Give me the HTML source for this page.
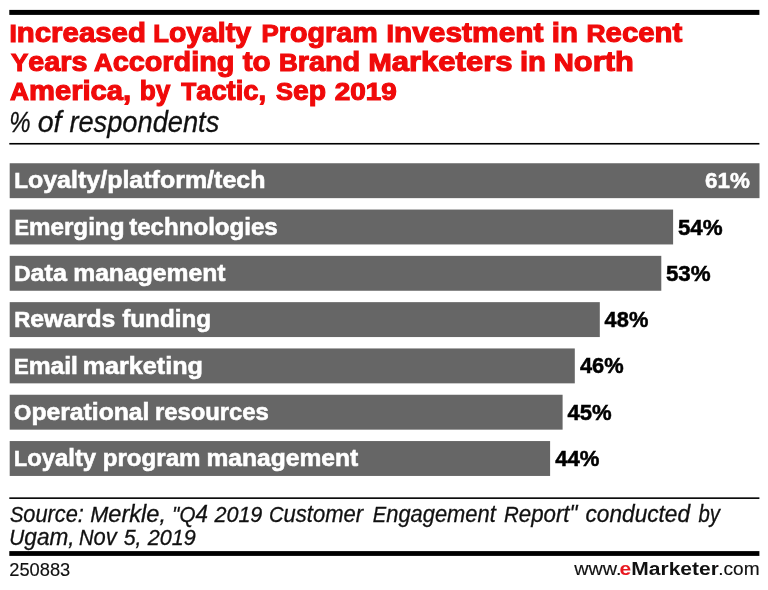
<!DOCTYPE html>
<html lang="en">
<head>
<meta charset="utf-8">
<title>Increased Loyalty Program Investment in Recent Years According to Brand Marketers in North America, by Tactic, Sep 2019</title>
<style>
html,body{margin:0;padding:0;background:#fff;}
body{width:768px;height:590px;position:relative;overflow:hidden;font-family:"Liberation Sans",sans-serif;color:#000;}
.gfx{position:absolute;left:0;top:0;display:block;}
.soft{position:absolute;left:0;top:0;width:768px;height:590px;filter:blur(0.4px);}
.line{position:absolute;left:0;top:0;margin:0;white-space:nowrap;line-height:0;font-size:0;}
.t{display:inline-block;vertical-align:top;width:0;white-space:nowrap;transform-origin:0 0;line-height:1;}
.title{color:#f00a0a;font-weight:bold;}
.sub{font-style:italic;color:#111;}
.lbl{color:#fff;font-weight:bold;}
.val{color:#000;font-weight:bold;}
.src{font-style:italic;color:#111;}
.foot{color:#111;}
.foot b{background:linear-gradient(90deg,#e8171f 0,#e8171f 10.9%,#111 10.9%,#111 100%);-webkit-background-clip:text;background-clip:text;color:transparent;-webkit-text-fill-color:transparent;}
.title .k::first-letter{font-size:0.9em;}
.lbl .k::first-letter{font-size:0.9em;}
.src .k::first-letter{font-size:0.92em;}
</style>
</head>
<body>
<div class="soft">
<svg class="gfx" width="768" height="590" viewBox="0 0 768 590" aria-hidden="true">
<rect class="rule" x="9.3" y="9.9" width="750.1" height="5.0" fill="#000"/>
<rect class="rule" x="9.3" y="142.95" width="750.1" height="1.6" fill="#000"/>
<rect class="rule" x="9.3" y="497.35" width="750.1" height="1.6" fill="#000"/>
<rect class="rule" x="9.3" y="551.1" width="750.1" height="4.8" fill="#000"/>
<rect class="bar" x="9.7" y="163.25" width="749.8" height="34.9" fill="#666"/>
<rect class="bar" x="9.7" y="209.55" width="663.4" height="34.9" fill="#666"/>
<rect class="bar" x="9.7" y="255.85" width="651.6" height="34.9" fill="#666"/>
<rect class="bar" x="9.7" y="302.15" width="590.1" height="34.9" fill="#666"/>
<rect class="bar" x="9.7" y="348.45" width="565.1" height="34.9" fill="#666"/>
<rect class="bar" x="9.7" y="394.75" width="552.9" height="34.9" fill="#666"/>
<rect class="bar" x="9.7" y="441.05" width="540.4" height="34.9" fill="#666"/>
</svg>
<div class="line title"><span class="t k" id="t1w1" style="font-size:27px;transform:translate(9.43px,20px) scaleX(1.0887);-webkit-text-stroke:1.1px #f00a0a;">Increased</span> <span class="t k" id="t1w2" style="font-size:27px;transform:translate(153.25px,20px) scaleX(1.0527);-webkit-text-stroke:1.1px #f00a0a;">Loyalty</span> <span class="t k" id="t1w3" style="font-size:27px;transform:translate(261.56px,20px) scaleX(1.0626);-webkit-text-stroke:1.1px #f00a0a;">Program</span> <span class="t k" id="t1w4" style="font-size:27px;transform:translate(386.48px,20px) scaleX(1.1071);-webkit-text-stroke:1.1px #f00a0a;">Investment</span> <span class="t" id="t1w5" style="font-size:27px;transform:translate(551.83px,20px) scaleX(1.0894);-webkit-text-stroke:1.1px #f00a0a;">in</span> <span class="t k" id="t1w6" style="font-size:27px;transform:translate(586.46px,20px) scaleX(1.0883);-webkit-text-stroke:1.1px #f00a0a;">Recent</span></div>
<div class="line title"><span class="t k" id="t2w1" style="font-size:27px;transform:translate(11.04px,49px) scaleX(1.0632);-webkit-text-stroke:1.1px #f00a0a;">Years</span> <span class="t k" id="t2w2" style="font-size:27px;transform:translate(93.99px,49px) scaleX(1.067);-webkit-text-stroke:1.1px #f00a0a;">According</span> <span class="t" id="t2w3" style="font-size:27px;transform:translate(242.71px,49px) scaleX(1.0954);-webkit-text-stroke:1.1px #f00a0a;">to</span> <span class="t k" id="t2w4" style="font-size:27px;transform:translate(278.88px,49px) scaleX(1.0702);-webkit-text-stroke:1.1px #f00a0a;">Brand</span> <span class="t k" id="t2w5" style="font-size:27px;transform:translate(368.44px,49px) scaleX(1.1494);-webkit-text-stroke:1.1px #f00a0a;">Marketers</span> <span class="t" id="t2w6" style="font-size:27px;transform:translate(519.96px,49px) scaleX(1.082);-webkit-text-stroke:1.1px #f00a0a;">in</span> <span class="t k" id="t2w7" style="font-size:27px;transform:translate(553.81px,49px) scaleX(1.1411);-webkit-text-stroke:1.1px #f00a0a;">North</span></div>
<div class="line title"><span class="t k" id="t3w1" style="font-size:27px;transform:translate(10.01px,78px) scaleX(1.0806);-webkit-text-stroke:1.1px #f00a0a;">America,</span> <span class="t" id="t3w2" style="font-size:27px;transform:translate(139.75px,78px) scaleX(0.9722);-webkit-text-stroke:1.1px #f00a0a;">by</span> <span class="t k" id="t3w3" style="font-size:27px;transform:translate(181.17px,78px) scaleX(1.012);-webkit-text-stroke:1.1px #f00a0a;">Tactic,</span> <span class="t k" id="t3w4" style="font-size:27px;transform:translate(276.07px,78px) scaleX(1.0476);-webkit-text-stroke:1.1px #f00a0a;">Sep</span> <span class="t" id="t3w5" style="font-size:24.3px;transform:translate(334.73px,80px) scaleX(1.1461);-webkit-text-stroke:1.1px #f00a0a;">2019</span></div>
<div class="line sub"><span class="t" id="s1w1" style="font-size:30px;transform:translate(9.33px,107px) scaleX(0.8018);-webkit-text-stroke:0.3px #111;">%</span> <span class="t" id="s1w2" style="font-size:30px;transform:translate(37.7px,107px) scaleX(0.9523);-webkit-text-stroke:0.3px #111;">of</span> <span class="t" id="s1w3" style="font-size:30px;transform:translate(69.39px,107px) scaleX(0.9079);-webkit-text-stroke:0.3px #111;">respondents</span></div>
<div class="line lbl"><span class="t k" id="l1" style="font-size:24.4px;transform:translate(14.2px,168px) scaleX(1.0248);-webkit-text-stroke:0.6px #fff;">Loyalty/platform/tech</span></div>
<div class="line lbl"><span class="t k" id="l2w1" style="font-size:24.4px;transform:translate(14.43px,215px) scaleX(0.9921);-webkit-text-stroke:0.6px #fff;">Emerging</span> <span class="t" id="l2w2" style="font-size:24.4px;transform:translate(129.16px,215px) scaleX(0.9877);-webkit-text-stroke:0.6px #fff;">technologies</span></div>
<div class="line lbl"><span class="t k" id="l3w1" style="font-size:24.4px;transform:translate(14.2px,261px) scaleX(1.0307);-webkit-text-stroke:0.6px #fff;">Data</span> <span class="t" id="l3w2" style="font-size:24.4px;transform:translate(73.18px,261px) scaleX(1.0124);-webkit-text-stroke:0.6px #fff;">management</span></div>
<div class="line lbl"><span class="t k" id="l4w1" style="font-size:24.4px;transform:translate(14.15px,307px) scaleX(1.0126);-webkit-text-stroke:0.6px #fff;">Rewards</span> <span class="t" id="l4w2" style="font-size:24.4px;transform:translate(122.28px,307px) scaleX(0.9917);-webkit-text-stroke:0.6px #fff;">funding</span></div>
<div class="line lbl"><span class="t k" id="l5w1" style="font-size:24.4px;transform:translate(13.94px,354px) scaleX(1.0085);-webkit-text-stroke:0.6px #fff;">Email</span> <span class="t" id="l5w2" style="font-size:24.4px;transform:translate(82.69px,354px) scaleX(1.0318);-webkit-text-stroke:0.6px #fff;">marketing</span></div>
<div class="line lbl"><span class="t k" id="l6w1" style="font-size:24.4px;transform:translate(14.1px,400px) scaleX(1.0124);-webkit-text-stroke:0.6px #fff;">Operational</span> <span class="t" id="l6w2" style="font-size:24.4px;transform:translate(154.92px,400px) scaleX(0.9772);-webkit-text-stroke:0.6px #fff;">resources</span></div>
<div class="line lbl"><span class="t k" id="l7w1" style="font-size:24.4px;transform:translate(14.08px,446px) scaleX(0.9775);-webkit-text-stroke:0.6px #fff;">Loyalty</span> <span class="t" id="l7w2" style="font-size:24.4px;transform:translate(102.72px,446px) scaleX(0.9886);-webkit-text-stroke:0.6px #fff;">program</span> <span class="t" id="l7w3" style="font-size:24.4px;transform:translate(206.48px,446px) scaleX(1.0084);-webkit-text-stroke:0.6px #fff;">management</span></div>
<div class="line val"><span class="t" id="v1" style="font-size:22px;transform:translate(705.02px,170px) scaleX(1.0171);color:#fff;-webkit-text-stroke:0.5px #fff;">61%</span></div>
<div class="line val"><span class="t" id="v2" style="font-size:22px;transform:translate(677.89px,217px) scaleX(1.016);-webkit-text-stroke:0.5px #000;">54%</span></div>
<div class="line val"><span class="t" id="v3" style="font-size:22px;transform:translate(665.89px,263px) scaleX(1.016);-webkit-text-stroke:0.5px #000;">53%</span></div>
<div class="line val"><span class="t" id="v4" style="font-size:22px;transform:translate(604.6px,309px) scaleX(0.9923);-webkit-text-stroke:0.5px #000;">48%</span></div>
<div class="line val"><span class="t" id="v5" style="font-size:22px;transform:translate(579.91px,355px) scaleX(0.9923);-webkit-text-stroke:0.5px #000;">46%</span></div>
<div class="line val"><span class="t" id="v6" style="font-size:22px;transform:translate(567.45px,402px) scaleX(1.003);-webkit-text-stroke:0.5px #000;">45%</span></div>
<div class="line val"><span class="t" id="v7" style="font-size:22px;transform:translate(555.17px,448px) scaleX(1.0037);-webkit-text-stroke:0.5px #000;">44%</span></div>
<div class="line src"><span class="t k" id="c1w1" style="font-size:23.3px;transform:translate(9.91px,503px) scaleX(0.9356);-webkit-text-stroke:0.3px #111;">Source:</span> <span class="t k" id="c1w2" style="font-size:23.3px;transform:translate(90.16px,503px) scaleX(1.0139);-webkit-text-stroke:0.3px #111;">Merkle,</span> <span class="t k" id="c1w3" style="font-size:23.3px;transform:translate(172.07px,503px) scaleX(0.9626);-webkit-text-stroke:0.3px #111;">&quot;Q4</span> <span class="t" id="c1w4" style="font-size:21.44px;transform:translate(214.45px,505px) scaleX(1.0044);-webkit-text-stroke:0.3px #111;">2019</span> <span class="t k" id="c1w5" style="font-size:23.3px;transform:translate(268.89px,503px) scaleX(0.9453);-webkit-text-stroke:0.3px #111;">Customer</span> <span class="t k" id="c1w6" style="font-size:23.3px;transform:translate(372.79px,503px) scaleX(0.9398);-webkit-text-stroke:0.3px #111;">Engagement</span> <span class="t k" id="c1w7" style="font-size:23.3px;transform:translate(504.01px,503px) scaleX(0.9557);-webkit-text-stroke:0.3px #111;">Report&quot;</span> <span class="t" id="c1w8" style="font-size:23.3px;transform:translate(585.53px,503px) scaleX(0.9723);-webkit-text-stroke:0.3px #111;">conducted</span> <span class="t" id="c1w9" style="font-size:23.3px;transform:translate(698.42px,503px) scaleX(0.8737);-webkit-text-stroke:0.3px #111;">by</span></div>
<div class="line src"><span class="t k" id="c2w1" style="font-size:23.3px;transform:translate(9.31px,526px) scaleX(0.9702);-webkit-text-stroke:0.3px #111;">Ugam,</span> <span class="t k" id="c2w2" style="font-size:23.3px;transform:translate(78.92px,526px) scaleX(0.94);-webkit-text-stroke:0.3px #111;">Nov</span> <span class="t" id="c2w3" style="font-size:21.44px;transform:translate(123.69px,528px) scaleX(0.9945);-webkit-text-stroke:0.3px #111;">5,</span> <span class="t" id="c2w4" style="font-size:21.44px;transform:translate(147.74px,528px) scaleX(1.0068);-webkit-text-stroke:0.3px #111;">2019</span></div>
<div class="line foot"><span class="t" id="f1" style="font-size:18px;transform:translate(9.21px,561px) scaleX(1.016);-webkit-text-stroke:0.15px #111;">250883</span></div>
<div class="line foot"><span class="t" id="f2a" style="font-size:18px;transform:translate(574.13px,560px) scaleX(1.1006);-webkit-text-stroke:0.15px #111;">www.</span><span class="t" id="f2b" style="font-size:18px;transform:translate(619.59px,560px) scaleX(1.1673);"><b>eMarketer</b></span><span class="t" id="f2c" style="font-size:18px;transform:translate(718.21px,560px) scaleX(1.0598);-webkit-text-stroke:0.15px #111;">.com</span></div>
</div>
</body>
</html>
